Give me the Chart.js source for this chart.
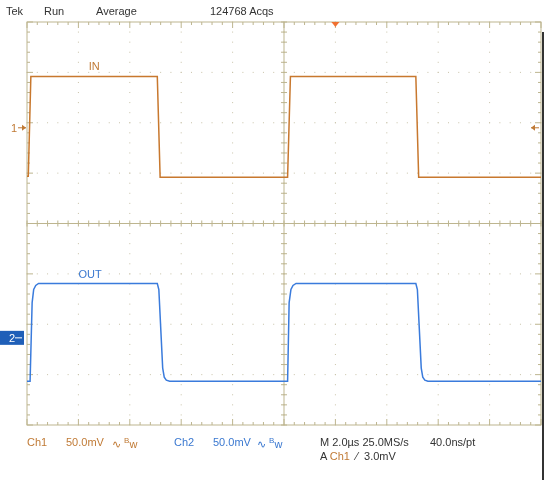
<!DOCTYPE html>
<html><head><meta charset="utf-8">
<script src="https://cdn.jsdelivr.net/npm/chart.js@4"></script>
<style>html,body{margin:0;background:#fff}#w{position:relative;width:550px;height:483px}
.t{position:absolute;font:11px "Liberation Sans",Arial,sans-serif;white-space:nowrap}
.o{color:#c07a35}.b{color:#3a78d0}.k{color:#333}</style></head>
<body><div id="w"><canvas id="c" width="550" height="483"></canvas>
<span class="t k" style="left:6px;top:5px">Tek</span>
<span class="t k" style="left:44px;top:5px">Run</span>
<span class="t k" style="left:96px;top:5px">Average</span>
<span class="t k" style="left:210px;top:5px">124768 Acqs</span>
<span class="t o" style="left:27px;top:436px">Ch1</span>
<span class="t o" style="left:66px;top:436px">50.0mV</span>
<span class="t o" style="left:112px;top:436px">∿ <sup style="font-size:8px">B</sup>w</span>
<span class="t b" style="left:174px;top:436px">Ch2</span>
<span class="t b" style="left:213px;top:436px">50.0mV</span>
<span class="t b" style="left:257px;top:436px">∿ <sup style="font-size:8px">B</sup>w</span>
<span class="t k" style="left:320px;top:436px">M 2.0µs 25.0MS/s</span>
<span class="t k" style="left:430px;top:436px">40.0ns/pt</span>
<span class="t k" style="left:320px;top:450px">A <span class="o">Ch1</span> &nbsp;⁄&nbsp; 3.0mV</span>
</div>
<script>
// time in µs (2 µs/div), voltage in mV (50 mV/div)
const inTime = [0, 0.05, 0.15, 5.07, 5.18, 10.14, 10.25, 15.13, 15.24, 20];
const inMv   = [-48, -48, 51, 51, -49, -49, 51, 51, -49, -49];
const outTime = [0, 0.12, 0.2, 0.26, 0.34, 0.45, 5.07, 5.13, 5.28, 5.34, 5.42, 5.55, 10.14, 10.2, 10.27, 10.35, 10.47, 15.13, 15.19, 15.34, 15.4, 15.48, 15.6, 20];
const outMv   = [-43, -43, 35, 48, 52, 54, 54, 48, -30, -39, -42, -43, -43, 35, 48, 52, 54, 54, 48, -30, -39, -42, -43, -43];
const ch1Offset = 5.9, ch2Offset = 1.73; // ground marker positions in divisions
const V = 50, T = 2;
const toPts = (t, v, off) => t.map((x, i) => ({x: x / T, y: off + v[i] / V}));
const frame = '#bdb58f';
const grid = {
  id: 'grid',
  beforeDatasetsDraw(ch) {
    const {ctx, scales: {x, y}} = ch;
    const L = x.getPixelForValue(0), R = x.getPixelForValue(10), Tp = y.getPixelForValue(8), B = y.getPixelForValue(0);
    const cx = x.getPixelForValue(5), cy = y.getPixelForValue(4);
    ctx.save(); ctx.fillStyle = '#c8c2a8';
    for (let i = 1; i < 10; i++) for (let j = 0; j <= 40; j++) ctx.fillRect(x.getPixelForValue(i) - 0.5, y.getPixelForValue(j / 5) - 0.5, 1, 1);
    for (let j = 1; j < 8; j++) for (let i = 0; i <= 50; i++) ctx.fillRect(x.getPixelForValue(i / 5) - 0.5, y.getPixelForValue(j) - 0.5, 1, 1);
    ctx.strokeStyle = frame; ctx.lineWidth = 1;
    ctx.beginPath();
    ctx.moveTo(cx, Tp); ctx.lineTo(cx, B); ctx.moveTo(L, cy); ctx.lineTo(R, cy);
    for (let i = 0; i <= 50; i++) {
      const px = x.getPixelForValue(i / 5), len = i % 5 ? 3 : 6;
      ctx.moveTo(px, Tp); ctx.lineTo(px, Tp + len);
      ctx.moveTo(px, B); ctx.lineTo(px, B - len);
      ctx.moveTo(px, cy - 3); ctx.lineTo(px, cy + 3);
    }
    for (let j = 0; j <= 40; j++) {
      const py = y.getPixelForValue(j / 5), len = j % 5 ? 3 : 6;
      ctx.moveTo(L, py); ctx.lineTo(L + len, py);
      ctx.moveTo(R, py); ctx.lineTo(R - len, py);
      ctx.moveTo(cx - 3, py); ctx.lineTo(cx + 3, py);
    }
    ctx.stroke();
    ctx.strokeRect(L, Tp, R - L, B - Tp);
    ctx.fillStyle = '#333'; ctx.fillRect(R + 1, Tp + 10, 2, 470 - Tp);
    ctx.fillStyle = '#f07030'; ctx.beginPath();
    const tx = x.getPixelForValue(6); ctx.moveTo(tx - 4, Tp); ctx.lineTo(tx + 4, Tp); ctx.lineTo(tx, Tp + 5); ctx.fill();
    const y1 = y.getPixelForValue(ch1Offset), y2 = y.getPixelForValue(ch2Offset);
    ctx.font = '11px "Liberation Sans",Arial'; ctx.fillStyle = '#c07a35';
    ctx.fillText('1', 11, y1 + 4);
    ctx.strokeStyle = '#c07a35'; ctx.beginPath(); ctx.moveTo(18, y1); ctx.lineTo(26, y1); ctx.stroke();
    ctx.beginPath(); ctx.moveTo(26, y1); ctx.lineTo(22, y1 - 3); ctx.lineTo(22, y1 + 3); ctx.fill();
    ctx.beginPath(); ctx.moveTo(R - 10, y1); ctx.lineTo(R - 2, y1); ctx.stroke();
    ctx.beginPath(); ctx.moveTo(R - 10, y1); ctx.lineTo(R - 6, y1 - 3); ctx.lineTo(R - 6, y1 + 3); ctx.fill();
    ctx.fillStyle = '#1f5fb8'; ctx.fillRect(0, y2 - 7, 24, 14);
    ctx.fillStyle = '#fff'; ctx.fillText('2', 9, y2 + 4);
    ctx.strokeStyle = '#fff'; ctx.beginPath(); ctx.moveTo(15, y2); ctx.lineTo(22, y2); ctx.stroke();
    ctx.fillStyle = '#c07a35';
    ctx.fillText('IN', x.getPixelForValue(1.2), y.getPixelForValue(ch1Offset + 1.1) - 2);
    ctx.fillStyle = '#3a78d0';
    ctx.fillText('OUT', x.getPixelForValue(1.0), y.getPixelForValue(ch2Offset + 1.15) - 2);
    ctx.restore();
  }
};
new Chart(document.getElementById('c'), {
  type: 'line',
  data: {datasets: [
    {label: 'IN', data: toPts(inTime, inMv, ch1Offset), borderColor: '#c8782e', borderWidth: 1.5, pointRadius: 0, tension: 0},
    {label: 'OUT', data: toPts(outTime, outMv, ch2Offset), borderColor: '#3a7bdc', borderWidth: 1.5, pointRadius: 0, tension: 0}
  ]},
  options: {
    responsive: false, animation: false,
    layout: {padding: {left: 27, top: 22, right: 9, bottom: 58}},
    plugins: {legend: {display: false}, tooltip: {enabled: false}},
    scales: {
      x: {type: 'linear', min: 0, max: 10, display: false},
      y: {type: 'linear', min: 0, max: 8, display: false}
    }
  },
  plugins: [grid]
});
</script></body></html>
